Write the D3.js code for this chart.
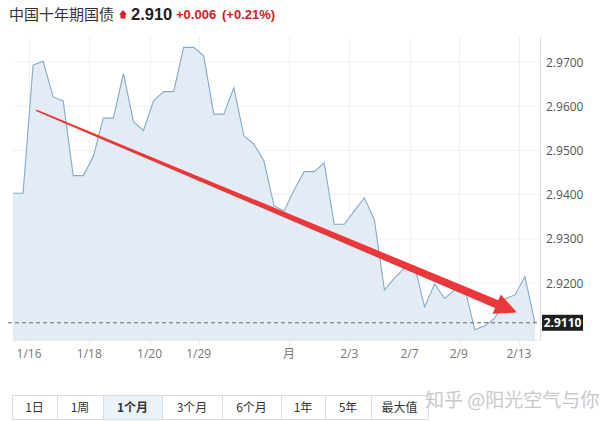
<!DOCTYPE html>
<html><head><meta charset="utf-8">
<script src="https://cdn.jsdelivr.net/npm/d3@7"></script>
<style>html,body{margin:0;padding:0;background:#fff;}svg{display:block;}</style>
</head><body>
<svg id="c" width="600" height="421"></svg>
<script>
// ---- data ----
const values = [2.9403,2.9403,2.9693,2.9702,2.9621,2.9612,2.9443,2.9443,2.9486,2.9573,
2.9573,2.9674,2.9565,2.9545,2.9612,2.9633,2.9633,2.9733,2.9733,2.9714,
2.9582,2.9582,2.9642,2.9533,2.9514,2.9476,2.9375,2.9363,2.9410,2.9452,
2.9452,2.9472,2.9333,2.9333,2.9363,2.9393,2.9343,2.9184,2.9211,2.9234,
2.9238,2.9146,2.9198,2.9165,2.9184,2.9189,2.9094,2.9103,2.9121,2.9164,
2.9173,2.9214,2.9110];
const xTickLabels = ["1/16","1/18","1/20","1/29","月","2/3","2/7","2/9","2/13"];
const xTickPos = [1.6,7.6,13.6,18.5,27.5,33.5,39.5,44.4,50.4];
const yTicks = [2.92,2.93,2.94,2.95,2.96,2.97];
const lastValue = 2.911;
const arrowFrom = [2.3, 2.9591];
const arrowTo = [50.2, 2.9133];
const buttons = ["1日","1周","1个月","3个月","6个月","1年","5年","最大值"];
const buttonWidths = [45,46,59,60,59,44,46,57];
const selectedButton = "1个月";

// ---- layout ----
const svg = d3.select("#c");
const L = 13, R = 535, T = 37, B = 340, axisX = 540;
const x = d3.scaleLinear().domain([0, values.length-1]).range([L, R]);
const y = d3.scaleLinear().domain([2.92, 2.97]).range([283, 62]);

// grid
const g = svg.append("g");
g.selectAll(".hg").data(yTicks).join("line")
  .attr("x1", L).attr("x2", axisX).attr("y1", d=>y(d)).attr("y2", d=>y(d))
  .attr("stroke", "#eef1f4").attr("stroke-width", 1);
g.selectAll(".vg").data(xTickPos).join("line")
  .attr("x1", d=>Math.round(x(d))+0.5).attr("x2", d=>Math.round(x(d))+0.5)
  .attr("y1", T).attr("y2", B+5)
  .attr("stroke", "#eef1f4").attr("stroke-width", 1);

// area + line
const area = d3.area().x((d,i)=>x(i)).y0(B).y1(d=>y(d));
const line = d3.line().x((d,i)=>x(i)).y(d=>y(d));
svg.append("path").datum(values).attr("d", area).attr("fill", "#e3ecf5");
svg.append("path").datum(values).attr("d", line).attr("fill", "none")
  .attr("stroke", "#86a9c6").attr("stroke-width", 1.1);

// bottom line & right axis
svg.append("line").attr("x1", L).attr("x2", axisX).attr("y1", B+0.5).attr("y2", B+0.5)
  .attr("stroke", "#e6ebf0");
svg.append("line").attr("x1", axisX+0.5).attr("x2", axisX+0.5).attr("y1", T).attr("y2", B)
  .attr("stroke", "#dcdcdc");

// y labels
svg.selectAll(".yl").data(yTicks).join("text")
  .attr("x", 546).attr("y", d=>y(d)+4.5)
  .attr("font-family", "'Open Sans', sans-serif").attr("font-size", 12)
  .attr("fill", "#555").text(d=>d.toFixed(4));

// x labels
svg.selectAll(".xl").data(xTickLabels).join("text")
  .attr("x", (d,i)=>x(xTickPos[i])).attr("y", 358).attr("text-anchor", "middle")
  .attr("font-family", (d)=> /[^\x00-\x7f]/.test(d) ? "'Noto Sans CJK SC', sans-serif" : "'Open Sans', sans-serif")
  .attr("font-size", 12).attr("fill", "#777").text(d=>d);

// dashed last-value line
svg.append("line").attr("x1", 8).attr("x2", axisX).attr("y1", y(lastValue)).attr("y2", y(lastValue))
  .attr("stroke", "#666").attr("stroke-width", 1).attr("stroke-dasharray", "4,3");
svg.append("rect").attr("x", 542).attr("y", y(lastValue)-8).attr("width", 41).attr("height", 16)
  .attr("fill", "#1e1e1e");
svg.append("text").attr("x", 562.5).attr("y", y(lastValue)+4.5).attr("text-anchor", "middle")
  .attr("font-family", "'Open Sans', sans-serif").attr("font-size", 12).attr("font-weight", "bold")
  .attr("fill", "#fff").text(lastValue.toFixed(4));

// red arrow annotation
(function(){
  const x0 = x(arrowFrom[0]), y0 = y(arrowFrom[1]);
  const x1 = x(arrowTo[0]), y1 = y(arrowTo[1]);
  const len = Math.hypot(x1-x0, y1-y0);
  const ux = (x1-x0)/len, uy = (y1-y0)/len, nx = -uy, ny = ux;
  const headL = 22, headW = 10.5, w0 = 0.8, w1 = 4.2;
  const bx = x1 - ux*headL, by = y1 - uy*headL;
  const pts = [
    [x0+nx*w0, y0+ny*w0],
    [bx+nx*w1, by+ny*w1],
    [bx+nx*headW, by+ny*headW],
    [x1, y1],
    [bx-nx*headW, by-ny*headW],
    [bx-nx*w1, by-ny*w1],
    [x0-nx*w0, y0-ny*w0]
  ];
  svg.append("path").attr("d", d3.line()(pts)+"Z").attr("fill", "#e8383a");
})();

// title
const t = svg.append("g");
t.append("text").attr("x", 9).attr("y", 19.5)
  .attr("font-family", "'Noto Sans CJK SC', sans-serif").attr("font-size", 15)
  .attr("fill", "#333").text("中国十年期国债");
t.append("path").attr("d", "M119,14.5 L123,10 L127,14.5 L125.5,14.5 L125.5,18.5 L120.5,18.5 L120.5,14.5 Z")
  .attr("fill", "#d9201f");
t.append("text").attr("x", 131).attr("y", 19.5)
  .attr("font-family", "'Liberation Sans', Arial, sans-serif").attr("font-size", 16.5).attr("font-weight", "bold")
  .attr("fill", "#222").text("2.910");
t.append("text").attr("x", 176).attr("y", 19)
  .attr("font-family", "'Liberation Sans', Arial, sans-serif").attr("font-size", 13).attr("font-weight", "bold")
  .attr("fill", "#d0201f").text("+0.006");
t.append("text").attr("x", 222).attr("y", 19)
  .attr("font-family", "'Liberation Sans', Arial, sans-serif").attr("font-size", 13).attr("font-weight", "bold")
  .attr("fill", "#d0201f").text("(+0.21%)");

// range buttons
const bx0 = 12, by0 = 395, bh = 24;
let acc = bx0;
const bdata = buttons.map((b,i)=>{ const o = {label:b, x:acc, w:buttonWidths[i]}; acc += buttonWidths[i]; return o; });
const bg = svg.append("g");
bg.selectAll("rect").data(bdata).join("rect")
  .attr("x", d=>d.x+0.5).attr("y", by0+0.5).attr("width", d=>d.w).attr("height", bh)
  .attr("fill", d=>d.label===selectedButton ? "#eaf2fa" : "#fff")
  .attr("stroke", "#dcdcdc");
bg.selectAll("text").data(bdata).join("text")
  .attr("x", d=>d.x+d.w/2).attr("y", by0+16.5).attr("text-anchor", "middle")
  .attr("font-family", "'Noto Sans CJK SC', sans-serif").attr("font-size", 12)
  .attr("font-weight", d=>d.label===selectedButton ? "bold" : "normal")
  .attr("fill", "#333").text(d=>d.label);

// watermark
svg.append("text").attr("x", 425).attr("y", 407)
  .attr("font-family", "'Noto Sans CJK SC', sans-serif").attr("font-size", 19)
  .attr("fill", "#c4c4c4").attr("opacity", 0.9).text("知乎 @阳光空气与你");
</script>
</body></html>
